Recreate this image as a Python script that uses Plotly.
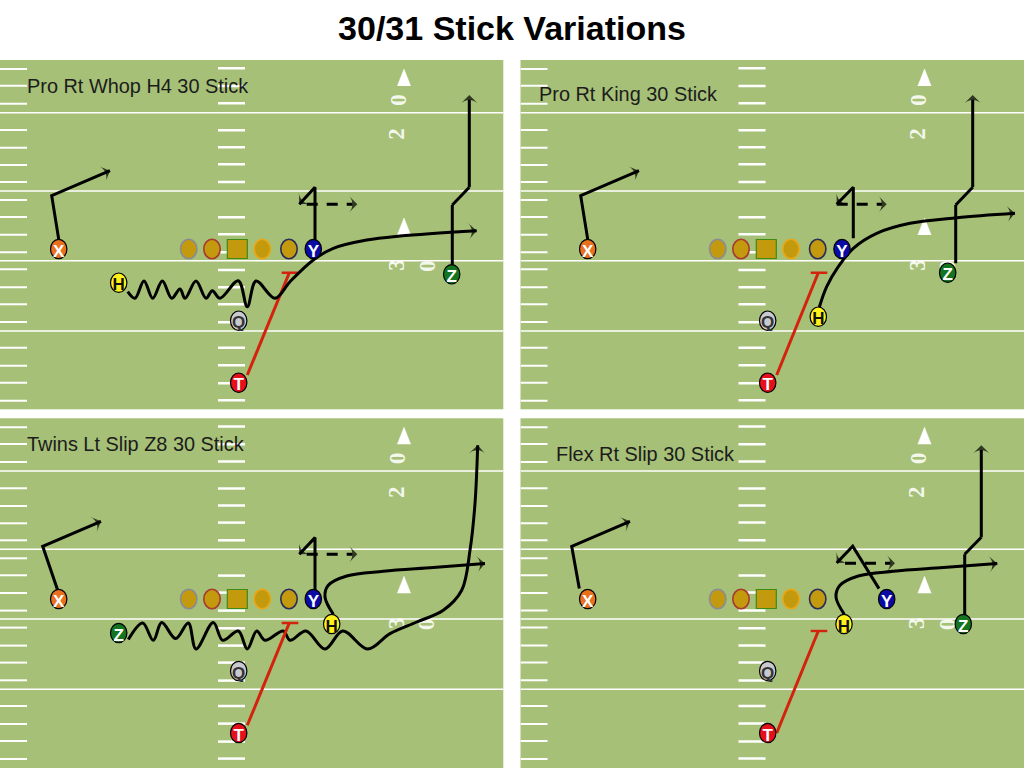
import plotly.graph_objects as go

title = "30/31 Stick Variations"
play_names = ["Pro Rt Whop H4 30 Stick", "Pro Rt King 30 Stick", "Twins Lt Slip Z8 30 Stick", "Flex Rt Slip 30 Stick"]
name_x = [25, 16.5, 25, 33.5]
name_y = [86, 94, 86, 96]

# field, same for all four panels
yard_lines = [112.7, 191, 260.7, 331]
side_hash_y = [69, 85.7, 103.7, 130, 147.7, 165, 182, 200, 217, 234.7, 252.3, 269.3, 287.3, 304.3, 322, 347.7, 365.7, 382.7, 400.7]
mid_hash_y = [68.3, 86, 103.3, 130.3, 147.3, 164.3, 182, 217.3, 234.3, 252.3, 270, 287.3, 304.3, 322.3, 347.7, 365.3, 383.3, 400.3]
tri_x = [397.3, 404, 410.7, None, 397.3, 404, 410.7]
tri_y = [86, 69, 86, None, 235, 218, 235]
digits = ["0", "2", "3", "0"]
digit_x = [395, 393.5, 393.5, 424]
digit_y = [100, 134, 265, 266]

ol_x_left = [188.7, 212, 237.3, 262.3, 289]
ol_x_right = [197.2, 220.5, 245.8, 270.5, 297.2]
ol_edge = ["#8b8b96", "#a83a30", "#3d8a14", "#e8a818", "#2c2c58"]

letters = ["X", "H", "Q", "T", "Y", "Z"]
fills = ["#e8701e", "#fff21a", "#c9c9d0", "#e5101a", "#0a0aa5", "#14741f"]
inks = ["#ffffff", "#111111", "#333333", "#ffffff", "#ffffff", "#ffffff"]

# play 1
whop_px = [58.7, 118.7, 238.7, 238.7, 313.3, 451.7]
whop_py = [249, 282.7, 320.7, 382.7, 249, 274.3]
whop_x_x = [58.7, 51.7, 110]
whop_x_y = [239.3, 195.7, 170.7]
whop_z_x = [452.3, 452.3, 469.3, 469.3]
whop_z_y = [265, 205, 187.3, 95]
whop_y_x = [315, 315, 299.3]
whop_y_y = [240, 187.3, 204.3]
whop_dash_x = [306.7, 357.3]
whop_dash_y = [204.3, 204.3]
whop_t_x = [247.3, 289.3]
whop_t_y = [375, 272.7]
whop_bar_x = [281.7, 297.7]
whop_h_x = [127.7, 135, 144, 152.7, 162.3, 171.7, 180, 185, 196, 206, 212.3, 220, 238.3, 247.3, 256, 275, 290, 313.3, 333.3, 366.7, 400, 476.7]
whop_h_y = [291.7, 298.3, 281, 298.3, 281, 298.3, 289, 298.3, 281, 298.3, 290.7, 298.3, 280.7, 306.7, 281, 298.3, 281.7, 260, 248.3, 240, 236, 230.7]

# play 2
king_px = [67.2, 297.8, 247.2, 247.2, 321.5, 427.2]
king_py = [249, 316.7, 320.7, 382.7, 249, 272.7]
king_x_x = [67.2, 60.2, 118.5]
king_x_y = [239.3, 195.7, 170.7]
king_z_x = [435.2, 435.2, 452.2, 452.2]
king_z_y = [263.3, 205, 187.3, 95]
king_y_x = [332.8, 332.8, 316.2]
king_y_y = [238.3, 187.3, 204.3]
king_dash_x = [316.2, 366.2]
king_dash_y = [204.3, 204.3]
king_t_x = [256.2, 297.8]
king_t_y = [375, 272.7]
king_bar_x = [290.2, 306.8]
king_h_x = [298.8, 306.2, 317.8, 332.8, 356.2, 389.5, 436.2, 494.5]
king_h_y = [307.3, 286.7, 266.7, 248.3, 233.3, 223.3, 217.7, 213.3]

# play 3
twins_px = [58.7, 331.7, 238.7, 238.7, 313.3, 118.7]
twins_py = [240.7, 265.7, 312.7, 374.7, 240.7, 274.7]
twins_x_x = [58.3, 42.7, 101]
twins_x_y = [233.7, 188, 163]
twins_z_x = [128.3, 142.7, 153.3, 161.7, 175.7, 188.3, 196, 213.3, 222.7, 238.3, 247.3, 256.7, 265, 283.3, 290, 306, 325, 342.7, 367.7, 390, 416.7, 443.3, 461.7, 470, 475, 477.7]
twins_z_y = [281.3, 264.7, 282, 264.3, 280.3, 264.7, 290.7, 264.3, 282, 272.7, 290.7, 272.7, 282, 272.7, 282, 272.7, 290.7, 272.7, 290.7, 275.3, 263.7, 252, 232, 192, 145.3, 87]
twins_y_x = [315, 315, 299.3]
twins_y_y = [232, 179.3, 196]
twins_dash_x = [306.7, 357.3]
twins_dash_y = [196, 196]
twins_t_x = [247.3, 289.3]
twins_t_y = [367, 264.7]
twins_bar_x = [281.7, 298.3]
twins_h_x = [333.3, 325, 328.3, 346.7, 383.3, 433.3, 485]
twins_h_y = [256, 238.7, 227, 217.7, 213, 209.3, 205.3]

# play 4
flex_px = [67.2, 323.5, 247.2, 247.2, 366.2, 442.8]
flex_py = [240.7, 265.7, 312.7, 374.7, 240.7, 265.7]
flex_x_x = [58.8, 51.2, 109.5]
flex_x_y = [230.3, 188, 163]
flex_z_x = [444.2, 444.2, 460.8, 460.8]
flex_z_y = [257, 196, 179, 87]
flex_y_x = [358.5, 332.2, 316.2]
flex_y_y = [230.3, 188, 204.7]
flex_dash_x = [324.5, 374.5]
flex_dash_y = [205, 205]
flex_t_x = [256.2, 297.8]
flex_t_y = [374.7, 272.7]
flex_bar_x = [290.2, 306.8]
flex_h_x = [323.8, 315.5, 319.5, 337.8, 372.8, 422.8, 476.8]
flex_h_y = [256, 238.7, 227, 217.7, 213, 209.3, 205.3]

fig = go.Figure()
FIELD = "#a6c077"
WIDTH = 1024
HEIGHT = 768


def add_line(n, x, y, color="black", width=3, dash="solid", shape="linear", arrow=False):
    sizes = [0] * len(x)
    if arrow:
        sizes[-1] = 12
    fig.add_trace(go.Scatter(
        x=x, y=y, xaxis="x%d" % n, yaxis="y%d" % n, mode="lines+markers" if arrow else "lines",
        line=dict(color=color, width=width, dash=dash, shape=shape, smoothing=1.0),
        marker=dict(size=sizes, symbol="arrow-wide", angleref="previous", color=color, line=dict(width=0)),
        hoverinfo="skip", showlegend=False))


def add_field(n):
    for yy in yard_lines:
        add_line(n, [0, 510], [yy, yy], color="white", width=1.6)
    for x0, x1, ys in [(0, 27, side_hash_y), (218, 245, mid_hash_y)]:
        hx = []
        hy = []
        for yy in ys:
            hx += [x0, x1, None]
            hy += [yy, yy, None]
        add_line(n, hx, hy, color="white", width=2.5 if x0 else 2)
    fig.add_trace(go.Scatter(x=tri_x, y=tri_y, xaxis="x%d" % n, yaxis="y%d" % n, mode="lines", fill="toself",
                             fillcolor="white", line=dict(color="white", width=0.5), hoverinfo="skip", showlegend=False))
    for d, dx, dy in zip(digits, digit_x, digit_y):
        fig.add_shape(type="rect", xref="x%d" % n, yref="y%d" % n, x0=dx - 9, x1=dx + 9, y0=dy - 9, y1=dy + 9,
                      layer="below", line=dict(width=0), fillcolor="rgba(0,0,0,0)",
                      label=dict(text="<b>%s</b>" % d, textangle=-90, textposition="middle center",
                                 font=dict(family="Liberation Serif", size=23, color="#f4f7ec")))


def add_ellipse(n, cx, cy, fill, edge, letter="", ink="white", edge_w=1.2):
    fig.add_shape(type="circle", xref="x%d" % n, yref="y%d" % n, x0=cx - 8.2, x1=cx + 8.2, y0=cy - 9.7, y1=cy + 9.7,
                  layer="above", fillcolor=fill, line=dict(color=edge, width=edge_w),
                  label=dict(text="<b>%s</b>" % letter, textposition="middle center", yanchor="middle",
                             font=dict(family="Liberation Sans", size=17, color=ink)))


def add_formation(n, ol_x, ol_y, px, py):
    for i in range(5):
        if i == 2:
            fig.add_shape(type="rect", xref="x%d" % n, yref="y%d" % n, x0=ol_x[i] - 10, x1=ol_x[i] + 10,
                          y0=ol_y - 9.5, y1=ol_y + 9.5, layer="above", fillcolor="#c39a0e", line=dict(color=ol_edge[i], width=1.2))
        else:
            add_ellipse(n, ol_x[i], ol_y, "#c39a0e", ol_edge[i], edge_w=1.6)
    for i in range(len(letters)):
        add_ellipse(n, px[i], py[i], fills[i], "black", letters[i], inks[i])


def add_routes(n, x_r, z_r, y_r, dash_r, t_r, bar_x, h_r, wavy_z=False):
    add_line(n, *x_r, arrow=True)
    add_line(n, *y_r, arrow=True)
    add_line(n, *dash_r, dash="11px,9px", arrow=True)
    add_line(n, *z_r, arrow=True, shape="spline" if wavy_z else "linear")
    add_line(n, *t_r, color="#d3230f", width=3)
    add_line(n, bar_x, [t_r[1][-1]] * 2, color="#d3230f", width=2.4)
    add_line(n, *h_r, arrow=True, shape="spline")


panels = [(1, (0, 503.3), (60, 409.3)), (2, (520.5, 1024), (60, 409.3)),
          (3, (0, 503.3), (418.3, 768)), (4, (520.5, 1024), (418.3, 768))]

for n, dom_x, dom_y in panels:
    fig.layout["xaxis%d" % n] = dict(domain=[dom_x[0] / WIDTH, dom_x[1] / WIDTH], range=[0, dom_x[1] - dom_x[0]],
                                     visible=False, anchor="y%d" % n, fixedrange=True)
    bottom = 60 + dom_y[1] - dom_y[0]
    fig.layout["yaxis%d" % n] = dict(domain=[1 - dom_y[1] / HEIGHT, 1 - dom_y[0] / HEIGHT], range=[bottom, 60],
                                     visible=False, anchor="x%d" % n, fixedrange=True)
    add_field(n)
    fig.add_annotation(text=play_names[n - 1], x=name_x[n - 1], y=name_y[n - 1], xref="x%d" % n, yref="y%d" % n,
                       xanchor="left", yanchor="middle", showarrow=False,
                       font=dict(family="Liberation Sans", size=19.9, color="#1c1c1c"))

add_routes(1, (whop_x_x, whop_x_y), (whop_z_x, whop_z_y), (whop_y_x, whop_y_y), (whop_dash_x, whop_dash_y),
           (whop_t_x, whop_t_y), whop_bar_x, (whop_h_x, whop_h_y))
add_routes(2, (king_x_x, king_x_y), (king_z_x, king_z_y), (king_y_x, king_y_y), (king_dash_x, king_dash_y),
           (king_t_x, king_t_y), king_bar_x, (king_h_x, king_h_y))
add_routes(3, (twins_x_x, twins_x_y), (twins_z_x, twins_z_y), (twins_y_x, twins_y_y), (twins_dash_x, twins_dash_y),
           (twins_t_x, twins_t_y), twins_bar_x, (twins_h_x, twins_h_y), wavy_z=True)
add_routes(4, (flex_x_x, flex_x_y), (flex_z_x, flex_z_y), (flex_y_x, flex_y_y), (flex_dash_x, flex_dash_y),
           (flex_t_x, flex_t_y), flex_bar_x, (flex_h_x, flex_h_y))

add_formation(1, ol_x_left, 249, whop_px, whop_py)
add_formation(2, ol_x_right, 249, king_px, king_py)
add_formation(3, ol_x_left, 240.7, twins_px, twins_py)
add_formation(4, ol_x_right, 240.7, flex_px, flex_py)

fig.update_layout(
    width=WIDTH, height=HEIGHT, margin=dict(l=0, r=0, t=0, b=0), paper_bgcolor="white", plot_bgcolor=FIELD,
    showlegend=False,
    title=dict(text="<b>%s</b>" % title, x=0.5, xanchor="center", y=1 - 28 / HEIGHT, yanchor="middle",
               font=dict(family="Liberation Sans", size=34, color="black")))
# the page has a default body margin, the figure needs to sit at 0,0
fig.write_html("out.html", config=dict(displayModeBar=False), post_script="document.body.style.margin='0';")
